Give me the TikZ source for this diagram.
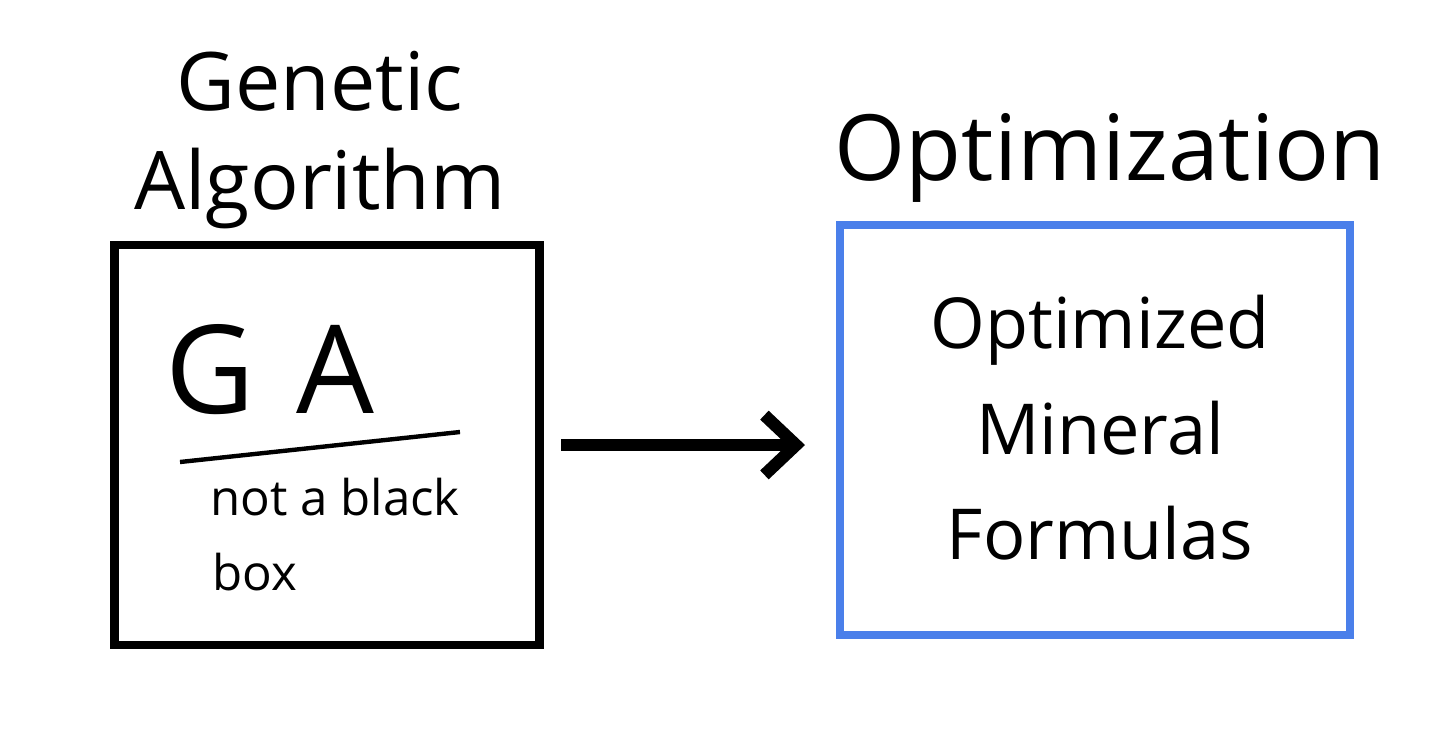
\documentclass[tikz,border=0pt]{standalone}
\usepackage{fontspec}
\setmainfont{Open Sans}
\usetikzlibrary{positioning,arrows.meta}
\definecolor{sketchblue}{HTML}{4A7FEA}
\begin{document}
\begin{tikzpicture}[x=0.02cm,y=-0.02cm]
	\tikzset{frame/.style={draw, line width=5pt, minimum width=8.5cm, minimum height=8cm, inner sep=0pt},
	title/.style={font=\fontsize{46}{56}\selectfont, align=center},
	inside/.style={font=\fontsize{40}{60}\selectfont, align=center}}
	\useasboundingbox (0,0) rectangle (1447,738);
	\node (GAbox) [frame, minimum width=8.5cm] at (327,445) {};
	\node (OptBox) [frame, draw=sketchblue, minimum width=10.2cm, minimum height=8.2cm] at (1095,430) {};
	\node (GAtitle) [title] at (320,140) {Genetic\\Algorithm};
	\node (OptTitle) [title, font=\fontsize{52}{60}\selectfont] at (1110,158) {Optimization};
	\node (GA) [font=\fontsize{70}{80}\selectfont] at (270,370) {G\,\,A};
	\coordinate (ulA) at (180,462);
	\coordinate (ulB) at (460,432);
	\draw[line width=2.5pt] (ulA) -- (ulB);
	\node (NotBlack) [font=\fontsize{28}{34}\selectfont] at (335,497) {not a black};
	\node (BoxWord) [font=\fontsize{28}{34}\selectfont] at (255,572) {box};
	\node (Result) [inside] at (1100,428) {Optimized\\Mineral\\Formulas};
	\coordinate (arrowEnd) at (805,445);
	\draw[line width=7pt, -{Straight Barb[length=18pt,width=34pt]}] ([xshift=10]GAbox.east) -- (arrowEnd);
\end{tikzpicture}
\end{document}
